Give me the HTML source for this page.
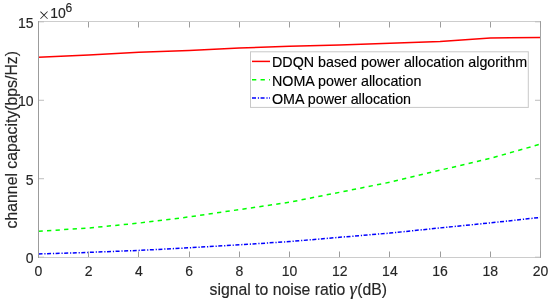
<!DOCTYPE html>
<html><head><meta charset="utf-8"><style>
html,body{margin:0;padding:0;background:#fff;}
body{width:550px;height:302px;overflow:hidden;position:relative;}
svg{position:absolute;left:0;top:0;}
text{font-family:"Liberation Sans",Arial,sans-serif;fill:#262626;stroke:#262626;stroke-width:0.15px;}
.lg text{fill:#000;stroke:#000;}
</style></head><body>
<svg width="550" height="302" viewBox="0 0 550 302">
<rect x="0" y="0" width="550" height="302" fill="#fff"/>

<g font-size="14"><text x="38.50" y="276.3" text-anchor="middle">0</text><text x="88.70" y="276.3" text-anchor="middle">2</text><text x="138.90" y="276.3" text-anchor="middle">4</text><text x="189.10" y="276.3" text-anchor="middle">6</text><text x="239.30" y="276.3" text-anchor="middle">8</text><text x="289.50" y="276.3" text-anchor="middle">10</text><text x="339.70" y="276.3" text-anchor="middle">12</text><text x="389.90" y="276.3" text-anchor="middle">14</text><text x="440.10" y="276.3" text-anchor="middle">16</text><text x="490.30" y="276.3" text-anchor="middle">18</text><text x="540.50" y="276.3" text-anchor="middle">20</text><text x="33.6" y="263.10" text-anchor="end">0</text><text x="33.6" y="184.63" text-anchor="end">5</text><text x="33.6" y="106.17" text-anchor="end">10</text><text x="33.6" y="27.70" text-anchor="end">15</text></g>
<text x="38.1" y="19.5" font-size="12" style="font-family:'Noto Sans CJK JP','Liberation Sans',sans-serif;stroke:none">×</text>
<text x="50.2" y="18.4" font-size="14">10</text>
<text x="65.6" y="11.6" font-size="12">6</text>
<g fill="none" stroke-width="1.5">
<polyline points="38.50,57.30 88.70,54.90 138.90,52.30 189.10,50.50 239.30,48.10 289.50,46.30 339.70,44.90 389.90,43.30 440.10,41.40 490.30,37.90 540.50,37.40" stroke="#ff0000"/>
<polyline points="38.50,231.31 88.70,227.99 138.90,223.10 189.10,216.90 239.30,209.60 289.50,202.19 339.70,192.29 389.90,182.20 440.10,170.20 490.30,158.39 540.50,144.10" stroke="#00ff00" stroke-dasharray="4.3 4.25"/>
<polyline points="38.50,254.00 88.70,252.40 138.90,250.40 189.10,247.80 239.30,244.80 289.50,241.60 339.70,237.30 389.90,233.10 440.10,227.90 490.30,222.89 540.50,217.40" stroke="#0000ff" stroke-dasharray="4 1.85 1.2 1.52"/>
</g>
<g fill="none" stroke-width="1">
<line x1="38.0" y1="21.5" x2="541.0" y2="21.5" stroke="#cdcdcd"/>
<line x1="38.0" y1="257.5" x2="541.0" y2="257.5" stroke="#cccccc"/>
<line x1="38.5" y1="21" x2="38.5" y2="258" stroke="#9c9c9c"/>
<line x1="540.5" y1="21" x2="540.5" y2="258" stroke="#a4a4a4"/>
<line x1="38.5" y1="257" x2="38.5" y2="251.5" stroke="#9c9c9c"/><line x1="38.5" y1="22" x2="38.5" y2="27.5" stroke="#9c9c9c"/><line x1="88.5" y1="257" x2="88.5" y2="251.5" stroke="#9c9c9c"/><line x1="88.5" y1="22" x2="88.5" y2="27.5" stroke="#9c9c9c"/><line x1="138.5" y1="257" x2="138.5" y2="251.5" stroke="#9c9c9c"/><line x1="138.5" y1="22" x2="138.5" y2="27.5" stroke="#9c9c9c"/><line x1="189.5" y1="257" x2="189.5" y2="251.5" stroke="#9c9c9c"/><line x1="189.5" y1="22" x2="189.5" y2="27.5" stroke="#9c9c9c"/><line x1="239.5" y1="257" x2="239.5" y2="251.5" stroke="#9c9c9c"/><line x1="239.5" y1="22" x2="239.5" y2="27.5" stroke="#9c9c9c"/><line x1="289.5" y1="257" x2="289.5" y2="251.5" stroke="#9c9c9c"/><line x1="289.5" y1="22" x2="289.5" y2="27.5" stroke="#9c9c9c"/><line x1="339.5" y1="257" x2="339.5" y2="251.5" stroke="#9c9c9c"/><line x1="339.5" y1="22" x2="339.5" y2="27.5" stroke="#9c9c9c"/><line x1="389.5" y1="257" x2="389.5" y2="251.5" stroke="#9c9c9c"/><line x1="389.5" y1="22" x2="389.5" y2="27.5" stroke="#9c9c9c"/><line x1="440.5" y1="257" x2="440.5" y2="251.5" stroke="#9c9c9c"/><line x1="440.5" y1="22" x2="440.5" y2="27.5" stroke="#9c9c9c"/><line x1="490.5" y1="257" x2="490.5" y2="251.5" stroke="#9c9c9c"/><line x1="490.5" y1="22" x2="490.5" y2="27.5" stroke="#9c9c9c"/><line x1="540.5" y1="257" x2="540.5" y2="251.5" stroke="#9c9c9c"/><line x1="540.5" y1="22" x2="540.5" y2="27.5" stroke="#9c9c9c"/><line x1="39.0" y1="257.20" x2="44.0" y2="257.20" stroke="#bdbdbd"/><line x1="540.0" y1="257.20" x2="535.0" y2="257.20" stroke="#bdbdbd"/><line x1="39.0" y1="178.73" x2="44.0" y2="178.73" stroke="#bdbdbd"/><line x1="540.0" y1="178.73" x2="535.0" y2="178.73" stroke="#bdbdbd"/><line x1="39.0" y1="100.27" x2="44.0" y2="100.27" stroke="#bdbdbd"/><line x1="540.0" y1="100.27" x2="535.0" y2="100.27" stroke="#bdbdbd"/><line x1="39.0" y1="21.80" x2="44.0" y2="21.80" stroke="#bdbdbd"/><line x1="540.0" y1="21.80" x2="535.0" y2="21.80" stroke="#bdbdbd"/>
</g>
<rect x="250.5" y="51.8" width="277.8" height="55.6" fill="#fff" stroke="#c8c8c8" stroke-width="1"/>
<g fill="none" stroke-width="1.5">
<line x1="252" y1="61.4" x2="270" y2="61.4" stroke="#ff0000"/>
<line x1="252" y1="79.7" x2="270" y2="79.7" stroke="#00ff00" stroke-dasharray="4.3 4.25"/>
<line x1="252" y1="98.0" x2="270" y2="98.0" stroke="#0000ff" stroke-dasharray="4 1.85 1.2 1.52"/>
</g>
<g font-size="14.3" class="lg">
<text x="272" y="67.3">DDQN based power allocation algorithm</text>
<text x="272" y="85.6">NOMA power allocation</text>
<text x="272" y="103.9">OMA power allocation</text>
</g>
<text font-size="15.75" x="209.6" y="294.6">signal to noise ratio <tspan font-family="Liberation Serif" font-style="italic" font-size="18.5" dx="-0.3">γ</tspan><tspan dx="0.5">(dB)</tspan></text>
<text font-size="15.8" transform="translate(16.6,139.7) rotate(-90)" text-anchor="middle">channel capacity(bps/Hz)</text>
</svg>
</body></html>
